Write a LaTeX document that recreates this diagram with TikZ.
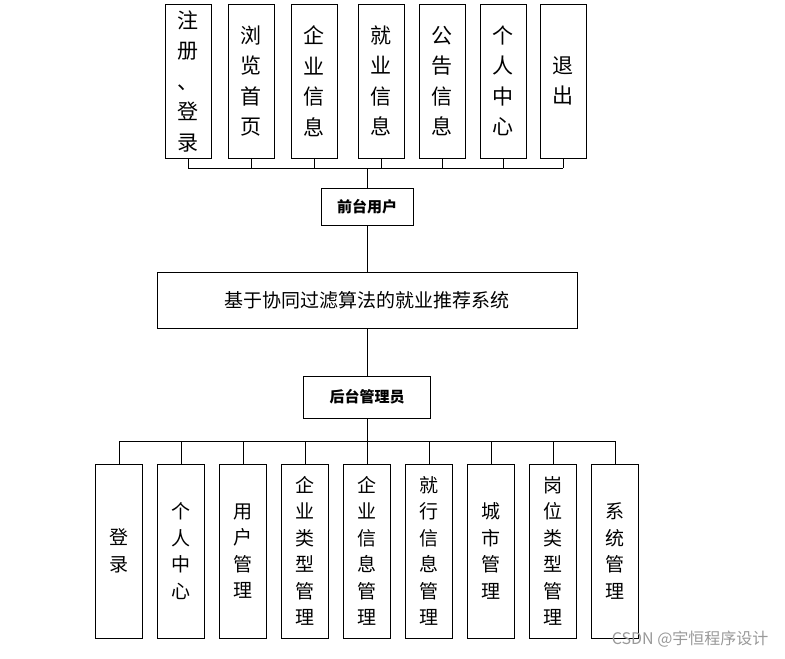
\documentclass[tikz,border=0pt]{standalone}
\usepackage{fontspec}
\newfontfamily\cjk{Noto Sans CJK SC}
\begin{document}
\begin{tikzpicture}[x=1pt,y=-1pt,
 vbox/.style={draw,thick,minimum width=46pt,align=center,inner sep=0pt,font=\cjk\fontsize{21}{30.5}\selectfont},
 hbox/.style={draw,thick,align=center,inner sep=0pt,font=\cjk\bfseries\fontsize{15}{18}\selectfont},
 ln/.style={thick}]
\useasboundingbox (0,0) rectangle (785,659);
% top boxes
\foreach \n/\x/\t in {t1/188/注\\册\\、\\登\\录, t2/251/浏\\览\\首\\页, t3/314/企\\业\\信\\息, t4/381/就\\业\\信\\息, t5/442/公\\告\\信\\息, t6/503/个\\人\\中\\心, t7/563/退\\出}{
 \node[vbox,minimum height=154pt] (\n) at (\x,81) {\t};
 \draw[ln] (\n.south) -- (\x,168);
}
\draw[ln] (188,168) -- (563,168);
\node[hbox,minimum width=92pt,minimum height=37pt] (fu) at (367,206.5) {前台用户};
\draw[ln] (367,168) -- (fu.north);
\node[draw,thick,minimum width=420pt,minimum height=56pt,inner sep=0pt,font=\cjk\fontsize{19}{20}\selectfont] (sys) at (367,300) {基于协同过滤算法的就业推荐系统};
\draw[ln] (fu.south) -- (sys.north);
\node[hbox,minimum width=127pt,minimum height=42pt] (bg) at (367,397) {后台管理员};
\draw[ln] (sys.south) -- (bg.north);
\draw[ln] (bg.south) -- (367,441);
\draw[ln] (119,441) -- (615,441);
\foreach \n/\x/\t in {b1/119/登\\录, b2/181/个\\人\\中\\心, b3/243/用\\户\\管\\理, b4/305/企\\业\\类\\型\\管\\理, b5/367/企\\业\\信\\息\\管\\理, b6/429/就\\行\\信\\息\\管\\理, b7/491/城\\市\\管\\理, b8/553/岗\\位\\类\\型\\管\\理, b9/615/系\\统\\管\\理}{
 \node[vbox,minimum width=47pt,minimum height=174pt,font=\cjk\fontsize{19}{26.5}\selectfont] (\n) at (\x,551) {\t};
 \draw[ln] (\x,441) -- (\n.north);
}
\node[font=\cjk\fontsize{16}{17}\selectfont,text=gray!80,anchor=east] (wm) at (772,639) {CSDN @宇恒程序设计};
\end{tikzpicture}
\end{document}
